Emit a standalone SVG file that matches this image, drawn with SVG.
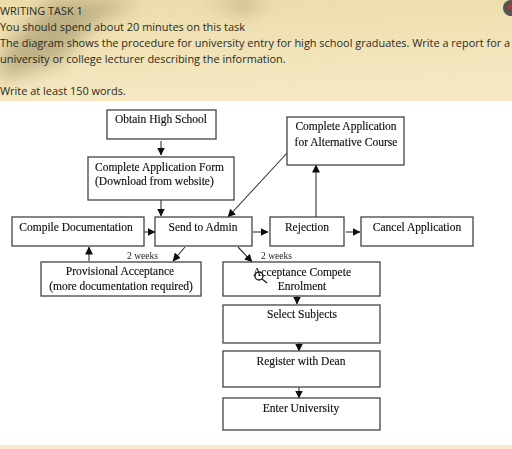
<svg xmlns="http://www.w3.org/2000/svg" width="512" height="449" viewBox="0 0 512 449">
<defs>
<linearGradient id="bg" x1="0" y1="0" x2="0.25" y2="1"><stop offset="0" stop-color="#ecdcaa"/><stop offset="1" stop-color="#f5e8c2"/></linearGradient>
<filter id="soft" x="-30%" y="-30%" width="160%" height="160%"><feGaussianBlur stdDeviation="9"/></filter>
<filter id="b" x="-5%" y="-5%" width="110%" height="110%"><feGaussianBlur stdDeviation="0.4"/></filter>
<marker id="arr" viewBox="0 0 8 8" refX="7.5" refY="4" markerWidth="8" markerHeight="8" markerUnits="userSpaceOnUse" orient="auto"><path d="M0 0L8 4L0 8Z" fill="#111"/></marker>
</defs>
<style>
.n{fill:#fff;stroke:#444;stroke-width:1.3}
.t{font-family:"Liberation Serif",serif;font-size:11.5px;fill:#111;text-anchor:middle;stroke:#111;stroke-width:0.15}
.s{font-family:"Liberation Serif",serif;font-size:9.5px;fill:#222}
.h{font-family:"Open Sans","Noto Sans",sans-serif;font-size:10.95px;fill:#2a2a22}
.c{fill:none;stroke:#333;stroke-width:1.1;marker-end:url(#arr)}
</style>
<rect width="512" height="449" fill="#fff"/>
<g id="header">
<rect width="512" height="101" fill="url(#bg)"/>
<g filter="url(#soft)" fill="#a99d72" opacity="0.7">
<path d="M50 0L140 0L95 22L60 62L0 80L0 55Z"/>
<path d="M205 0L270 0L245 14Z"/>
</g>
<rect y="101" width="512" height="8" fill="#fff"/>
<text class="h" x="0" y="15">WRITING TASK 1</text>
<text class="h" x="0" y="31">You should spend about 20 minutes on this task</text>
<text class="h" x="0" y="47">The diagram shows the procedure for university entry for high school graduates. Write a report for a</text>
<text class="h" x="0" y="63">university or college lecturer describing the information.</text>
<text class="h" x="0" y="95">Write at least 150 words.</text>
<circle cx="511" cy="8" r="8" fill="#555"/>
<circle cx="511" cy="7" r="3" fill="#b33"/>
</g>
<rect y="445" width="512" height="4" fill="#f6ebcb"/>
<g filter="url(#b)">
<g id="connectors">
<path class="c" d="M161 141V155"/>
<path class="c" d="M161 200V216"/>
<path class="c" d="M144 232H155"/>
<path class="c" d="M253 232H268"/>
<path class="c" d="M346 232H360"/>
<path class="c" d="M316 217V165"/>
<path class="c" d="M288 152L228 217"/>
<path class="c" d="M185 247L173 261"/>
<path class="c" d="M238 247L252 262"/>
<path class="c" d="M89 261V247"/>
<path class="c" d="M297 296V304"/>
<path class="c" d="M299 343V351"/>
<path class="c" d="M299 387V398"/>
</g>
<g id="obtain"><rect class="n" x="107" y="110" width="109" height="29"/><text class="t" x="161" y="123">Obtain High School</text></g>
<g id="form"><rect class="n" x="88" y="157" width="146" height="43"/><text class="t" x="95" y="171" style="text-anchor:start">Complete Application Form</text><text class="t" x="95" y="185" style="text-anchor:start">(Download from website)</text></g>
<g id="alt"><rect class="n" x="287" y="117" width="117" height="48"/><text class="t" x="346" y="130">Complete Application</text><text class="t" x="346" y="146">for Alternative Course</text></g>
<g id="compile"><rect class="n" x="12" y="217" width="132" height="29"/><text class="t" x="76" y="231">Compile Documentation</text></g>
<g id="send"><rect class="n" x="155" y="217" width="97" height="29"/><text class="t" x="203" y="231">Send to Admin</text></g>
<g id="rejection"><rect class="n" x="270" y="217" width="74" height="29"/><text class="t" x="307" y="231">Rejection</text></g>
<g id="cancel"><rect class="n" x="361" y="217" width="112" height="29"/><text class="t" x="417" y="231">Cancel Application</text></g>
<g id="provisional"><rect class="n" x="41" y="262" width="160" height="34"/><text class="t" x="120" y="275">Provisional Acceptance</text><text class="t" x="121" y="290">(more documentation required)</text></g>
<g id="acceptance"><rect class="n" x="223" y="262" width="157" height="34"/><text class="t" x="302" y="276">Acceptance Compete</text><text class="t" x="302" y="290">Enrolment</text></g>
<g id="subjects"><rect class="n" x="223" y="305" width="157" height="38"/><text class="t" x="302" y="318">Select Subjects</text></g>
<g id="dean"><rect class="n" x="223" y="351" width="157" height="36"/><text class="t" x="301" y="365">Register with Dean</text></g>
<g id="enter"><rect class="n" x="223" y="398" width="157" height="32"/><text class="t" x="301" y="412">Enter University</text></g>
<text class="s" x="127" y="259">2 weeks</text>
<text class="s" x="261" y="259">2 weeks</text>
</g>
<g id="cursor" fill="none" stroke="#222" stroke-width="1.4"><circle cx="259" cy="276" r="4"/><path d="M262 279L267 283"/></g>
</svg>
